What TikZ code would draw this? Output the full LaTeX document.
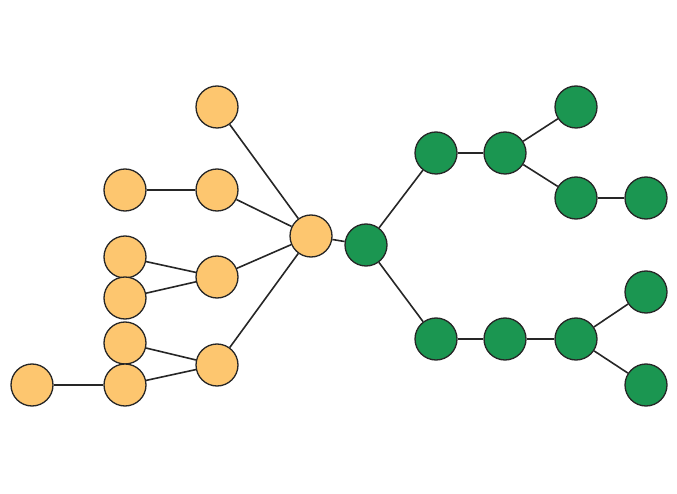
\documentclass[tikz,border=0pt]{standalone}
\definecolor{orng}{HTML}{FDC66F}
\definecolor{grn}{HTML}{1B9651}
\begin{document}
\begin{tikzpicture}[x=1pt,y=-1pt,
 nd/.style={circle,draw=black!85,line width=1.3pt,minimum size=42pt,inner sep=0pt},
 on/.style={nd,fill=orng}, gn/.style={nd,fill=grn},
 ed/.style={line width=1.6pt,draw=black!85}]
\useasboundingbox (0,0) rectangle (677,494);
\foreach \n/\x/\y in {o4/311/236,o1/217/107,o2/125/190,o3/217/190,o5/125/257,o6/125/298,o7/217/277,o8/125/343,o9/125/385,o10/217/365,o11/32/385}
 \node[on] (\n) at (\x,\y) {};
\foreach \n/\x/\y in {g1/366/245,g2/436/153,g3/505/153,g4/576/107,g5/576/198,g6/646/198,g7/436/339,g8/505/339,g9/576/339,g10/646/292,g11/646/385}
 \node[gn] (\n) at (\x,\y) {};
\begin{scope}[on background layer/.style={}]
\foreach \a/\b in {o1/o4,o2/o3,o3/o4,o7/o4,o10/o4,o5/o7,o6/o7,o8/o10,o9/o10,o11/o9,o4/g1,g1/g2,g2/g3,g3/g4,g3/g5,g5/g6,g1/g7,g7/g8,g8/g9,g9/g10,g9/g11}
 \draw[ed] (\a) -- (\b);
\end{scope}
\end{tikzpicture}
\end{document}
